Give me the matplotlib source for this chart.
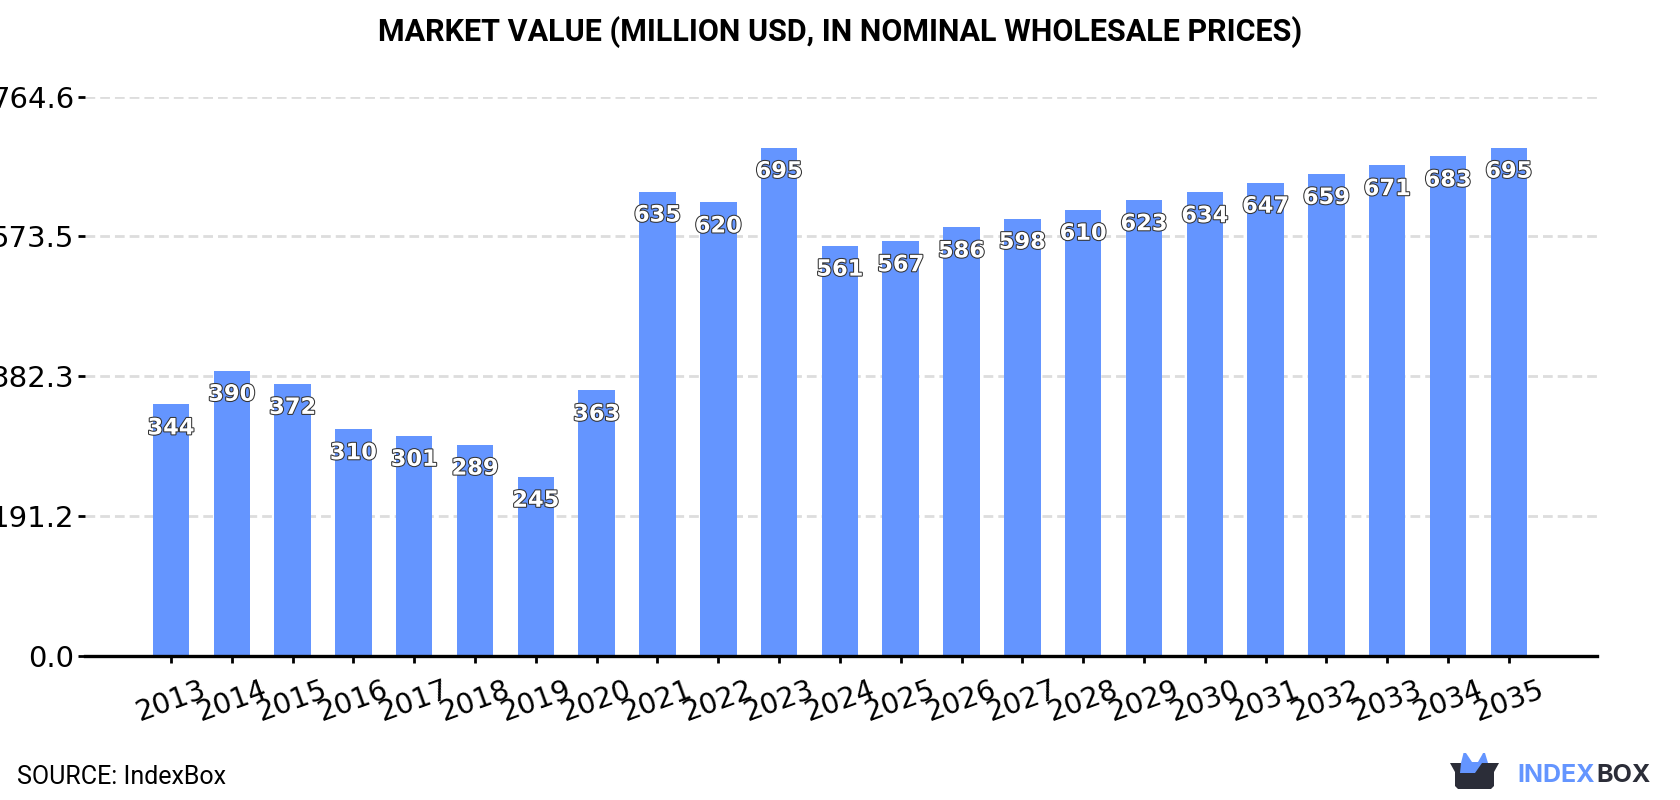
import matplotlib
matplotlib.use('Agg')
import matplotlib.pyplot as plt
import matplotlib.patheffects as pe
from matplotlib.patches import Polygon

years = ['2013', '2014', '2015', '2016', '2017', '2018', '2019', '2020', '2021', '2022', '2023', '2024',
         '2025', '2026', '2027', '2028', '2029', '2030', '2031', '2032', '2033', '2034', '2035']
values = [344, 390, 372, 310, 301, 289, 245, 363, 635, 620, 695, 561,
          567, 586, 598, 610, 623, 634, 647, 659, 671, 683, 695]
y_ticks = [0.0, 191.2, 382.3, 573.5, 764.6]

BLUE = '#6495ff'
DARK = '#2b2d38'

fig = plt.figure(figsize=(16.8, 8), dpi=100)
ax = fig.add_axes([85 / 1680, 1 - 656 / 800, (1597 - 85) / 1680, (656 - 96.7) / 800])

x = range(len(years))
ax.bar(x, values, width=0.6, color=BLUE, zorder=2)
ax.set_xlim(-1.414, 23.45)
ax.set_ylim(0, 764.6)

# value labels sit just under the top of each bar
for i, v in enumerate(values):
    ax.annotate(str(v), (i, v), xytext=(0, -24), textcoords='offset pixels', ha='center', va='center',
                fontsize=16.2, fontweight='bold', color='white', zorder=3,
                path_effects=[pe.withStroke(linewidth=1.5, foreground='#333333')])

ax.set_yticks(y_ticks)
ax.set_yticklabels([f'{t:.1f}' for t in y_ticks], fontsize=21)
ax.set_xticks(list(x))
ax.set_xticklabels(years, fontsize=20.5, rotation=20)
ax.tick_params(axis='y', length=5, width=2, pad=2.5)
ax.tick_params(axis='x', length=5, width=2, pad=9)
ax.yaxis.grid(True, linestyle='--', color='#dddddd', linewidth=2, dashes=(3.5, 1.8), zorder=1)
ax.set_axisbelow(True)
for side in ['top', 'right', 'left']:
    ax.spines[side].set_visible(False)
ax.spines['bottom'].set_linewidth(2.4)
ax.spines['bottom'].set_color('black')

fig.text(0.5, 1 - 32 / 800, 'MARKET VALUE (MILLION USD, IN NOMINAL WHOLESALE PRICES)', ha='center', va='center',
         fontsize=22, fontweight='bold', family='Roboto')
fig.text(17 / 1680, 1 - 777 / 800, 'SOURCE: IndexBox', ha='left', va='center', fontsize=18, family='Roboto')

# logo: open box with a blue shape rising out of it
logo = fig.add_axes([0, 0, 1, 1], zorder=5)
logo.set_xlim(0, 1680)
logo.set_ylim(800, 0)
logo.axis('off')
logo.add_patch(Polygon([[1450, 763], [1499, 763], [1494, 772], [1494, 786], [1491, 789], [1458, 789],
                        [1455, 786], [1455, 772]], closed=True, color=DARK, lw=0))
logo.add_patch(Polygon([[1460, 773], [1461, 763], [1463.5, 753], [1466, 753], [1472, 762], [1478, 762],
                        [1482, 755], [1483, 753], [1485, 753], [1488, 763], [1482, 763], [1475, 773]],
                       closed=True, color=BLUE, lw=0))
logo.text(1517, 775, 'INDEX', color=BLUE, fontsize=18, fontweight='bold', family='Inter', ha='left', va='center')
logo.text(1596, 775, 'BOX', color=DARK, fontsize=18, fontweight='bold', family='Inter', ha='left', va='center')

fig.savefig('out.png', dpi=100)
